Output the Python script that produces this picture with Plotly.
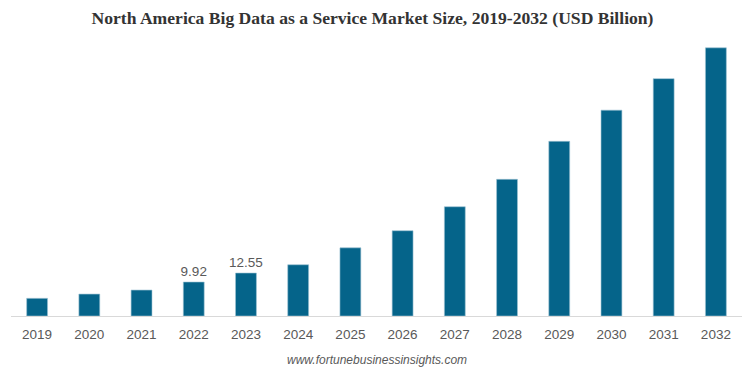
import plotly.graph_objects as go

years = ["2019", "2020", "2021", "2022", "2023", "2024", "2025", "2026",
         "2027", "2028", "2029", "2030", "2031", "2032"]
values = [5.16, 6.41, 7.58, 9.92, 12.55, 14.96, 19.9, 24.9,
          31.9, 39.9, 51.0, 60.1, 69.3, 78.3]
label_years = ["2022", "2023"]

labels = [f"{v:.2f}" if y in label_years else "" for y, v in zip(years, values)]

W, H = 745, 372
ML, MR, MT, MB = 11, 3, 42, 56

fig = go.Figure()
fig.add_trace(go.Bar(
    x=years, y=values,
    marker=dict(color="#05648A", line=dict(color="#9ec3d4", width=0.6)),
    text=labels, textposition="outside", constraintext="none",
    textfont=dict(family="Liberation Sans, Arial", size=13.5, color="#595959"),
    cliponaxis=False,
))

plot_w = W - ML - MR
plot_h = H - MT - MB

fig.update_layout(
    width=W, height=H,
    margin=dict(l=ML, r=MR, t=MT, b=MB),
    paper_bgcolor="white", plot_bgcolor="white",
    bargap=0.6,
    showlegend=False,
    title=dict(
        text="<b>North America Big Data as a Service Market Size, 2019-2032 (USD Billion)</b>",
        font=dict(family="Liberation Serif, Times New Roman", size=17.6, color="#333333"),
        x=0.5, xanchor="center", y=1 - 12 / H, yanchor="top",
    ),
    xaxis=dict(
        type="category", showgrid=False, showline=True, linecolor="#d9d9d9", linewidth=1,
        ticks="", tickfont=dict(family="Liberation Sans, Arial", size=13.5, color="#595959"),
        ticklabelstandoff=6,
    ),
    yaxis=dict(range=[0, 80], visible=False, showgrid=False, zeroline=False),
    annotations=[dict(
        text="<i>www.fortunebusinessinsights.com</i>",
        xref="paper", yref="paper",
        x=(377 - ML) / plot_w, y=(H - MB - 360) / plot_h,
        xanchor="center", yanchor="middle",
        showarrow=False,
        font=dict(family="Liberation Sans, Arial", size=12, color="#595959"),
    )],
)

fig.write_html("out.html", config={"displayModeBar": False},
               post_script="document.body.style.margin='0';")
